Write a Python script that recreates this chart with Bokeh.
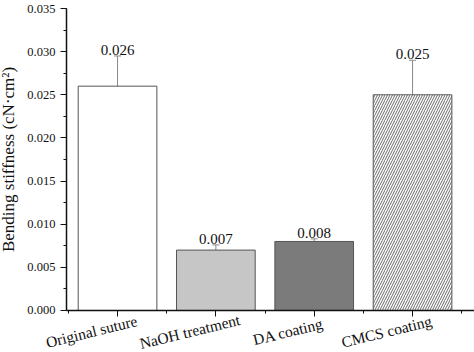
from bokeh.plotting import figure
from bokeh.models import (ColumnDataSource, Whisker, FixedTicker, NumeralTickFormatter,
                          Range1d, TeeHead, Label)
from bokeh.embed import file_html
from bokeh.resources import INLINE
from bokeh.core.properties import value

categories = ["Original suture", "NaOH treatment", "DA coating", "CMCS coating"]
values = [0.026, 0.007, 0.008, 0.025]
errors = [0.0035, 0.0006, 0.0003, 0.004]
value_labels = ["0.026", "0.007", "0.008", "0.025"]
fills = ["#ffffff", "#c6c6c6", "#7b7b7b", "#ffffff"]
hatches = ["blank", "blank", "blank", "/"]

xs = list(range(1, len(categories) + 1))
src = ColumnDataSource(dict(
    x=xs, top=values,
    upper=[v + e for v, e in zip(values, errors)],
    lower=[v - e for v, e in zip(values, errors)],
    lab=value_labels, fill=fills, hatch=hatches,
))

FONT = "Liberation Serif"
YMAX = 0.035
XAXIS_START, XEND = 0.481, 4.63
p = figure(width=474, height=352, output_backend="svg", toolbar_location=None,
           x_range=Range1d(-0.19, XEND), y_range=Range1d(-0.00487, 0.03593),
           min_border_left=0, min_border_right=0, min_border_top=0, min_border_bottom=0)
p.outline_line_color = None
p.grid.grid_line_color = None

p.vbar(x="x", top="top", width=0.8, source=src, fill_color="fill",
       line_color="#555555", line_width=1,
       hatch_pattern="hatch", hatch_color="#444444", hatch_scale=5, hatch_weight=0.8)

w = Whisker(source=src, base="x", upper="upper", lower="lower",
            line_color="#8a8a8a", line_width=1,
            upper_head=TeeHead(size=7, line_color="#8a8a8a"),
            lower_head=TeeHead(size=7, line_color="#8a8a8a"))
p.add_layout(w)

p.text(x="x", y="upper", text="lab", source=src, text_align="center",
       text_baseline="bottom", text_font=value(FONT), text_font_size="15px",
       text_color="#111111", y_offset=-1)

p.xaxis.ticker = FixedTicker(ticks=xs, minor_ticks=[0.5, 1.5, 2.5, 3.5, 4.5])
p.xaxis.major_label_overrides = {i: "" for i in xs}
p.xaxis.major_label_text_font_size = "0px"
p.xaxis.major_label_standoff = 0
p.xaxis.fixed_location = 0
p.xaxis.bounds = (XAXIS_START, XEND)
p.yaxis.ticker = FixedTicker(ticks=[i * 0.005 for i in range(8)],
                             minor_ticks=[i * 0.0025 for i in range(15)])
p.yaxis.formatter = NumeralTickFormatter(format="0.000")
p.yaxis.bounds = (0, YMAX)
p.yaxis.fixed_location = XAXIS_START
p.yaxis.axis_label = "Bending stiffness (cN·cm²)"

for ax in (p.xaxis[0], p.yaxis[0]):
    ax.axis_line_color = "#111111"
    ax.axis_line_width = 1.5
    ax.major_tick_line_color = "#111111"
    ax.minor_tick_line_color = "#111111"
    ax.major_tick_in = 0
    ax.major_tick_out = 6
    ax.minor_tick_in = 0
    ax.minor_tick_out = 3
    ax.major_label_text_font = FONT
    ax.major_label_text_color = "#111111"
    ax.axis_label_text_font = FONT
    ax.axis_label_text_font_style = "normal"
    ax.axis_label_text_color = "#111111"

p.yaxis.major_label_text_font_size = "12.5px"
p.yaxis.axis_label_text_font_size = "17px"
p.yaxis.axis_label_standoff = 6

for xi, cat in zip(xs, categories):
    p.add_layout(Label(x=xi, y=0, text=cat, x_offset=-26, y_offset=-21,
                       angle=0.24, text_align="center", text_baseline="middle",
                       text_font=FONT, text_font_size="15.5px", text_color="#111111"))

open("out.html", "w").write(file_html(p, INLINE))
